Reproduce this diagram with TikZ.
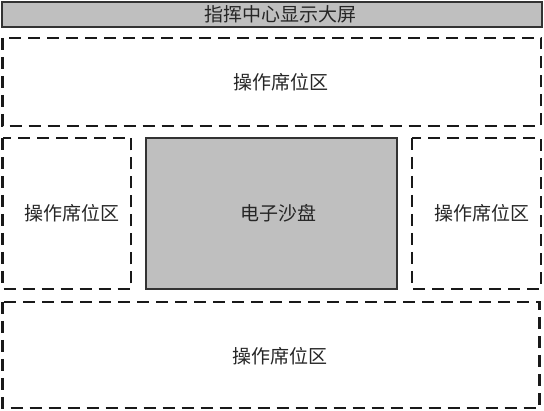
\documentclass[tikz,border=0pt]{standalone}
\usepackage{fontspec}
\newfontfamily\cjkfont{Noto Sans CJK SC}
\tikzset{
	seat/.style={line width=2.2pt, dash pattern=on 12pt off 7pt, draw=black!90},
	panel/.style={line width=1.3pt, draw=black!80, fill=black!25},
	lbl/.style={font=\cjkfont\fontsize{19}{21}\selectfont, text=black!85, inner sep=0pt}
}
\begin{document}
\begin{tikzpicture}[x=1pt,y=-1pt]
	\useasboundingbox (0,0) rectangle (544,411);
	% top screen
	\coordinate (S1) at (2,2);     \coordinate (S2) at (542,27);
	\draw[panel] (S1) rectangle (S2);
	\node[lbl] (screen) at (280,14.5) {指挥中心显示大屏};
	
	% seats and sand table
	\coordinate (N1) at (2.5,38);   \coordinate (N2) at (541,126);
	\coordinate (W1) at (2.5,138);  \coordinate (W2) at (131,289);
	\coordinate (T1) at (146,138);  \coordinate (T2) at (397,289);
	\coordinate (E1) at (412,138);  \coordinate (E2) at (541,289);
	\coordinate (B1) at (2.5,302);  \coordinate (B2) at (539.5,408);
	
	\draw[seat] (N1) rectangle (N2) (W1) rectangle (W2) (E1) rectangle (E2) (B1) rectangle (B2);
	\draw[panel] (T1) rectangle (T2);
	
	\node[lbl] (seatN) at (280.5,82.5) {操作席位区};
	\node[lbl] (seatW) at (71.5,213) {操作席位区};
	\node[lbl] (sand) at (278.5,213) {电子沙盘};
	\node[lbl] (seatE) at (482,213) {操作席位区};
	\node[lbl] (seatS) at (280,356) {操作席位区};
\end{tikzpicture}
\end{document}
